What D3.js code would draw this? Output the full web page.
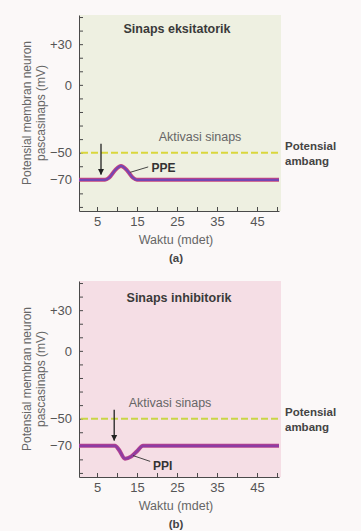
<!DOCTYPE html>
<html>
<head>
<meta charset="utf-8">
<script src="https://cdn.jsdelivr.net/npm/d3@7"></script>
<style>
  html, body { margin: 0; padding: 0; background: #fbf8f8; }
  svg { display: block; font-family: 'Liberation Sans', Arial, sans-serif; }
</style>
</head>
<body>
<div id="chart"></div>
<script>
// data
const timeA = [0.5, 7, 8, 9.5, 11, 12.5, 14, 15, 50.5]
const ppeMv = [-70, -70, -68.5, -63, -59.8, -63, -68.5, -70, -70]
const timeB = [0.5, 9.5, 10.5, 12, 13.5, 15, 16.5, 50.5]
const ppiMv = [-70, -70, -73, -79.5, -78, -74, -70, -70]
const yTickValues = [-90, -80, -70, -60, -50, -40, -30, -20, -10, 0, 10, 20, 30, 40, 50]
const yTickLabels = { 30: '+30', 0: '0', '-50': '\u221250', '-70': '\u221270' }
const xTickValues = [5, 10, 15, 20, 25, 30, 35, 40, 45, 50]
const xTickLabels = [5, 15, 25, 35, 45]
const threshold = -50
const arrowTimes = [6, 9.3]

const width = 361
const height = 531
const margin = { left: 79, right: 82 }

const svg = d3.select('#chart')
  .append('svg')
  .attr('width', width)
  .attr('height', height)

svg.append('rect')
  .attr('width', width).attr('height', height)
  .attr('fill', '#fbf8f8')

const x = d3.scaleLinear().domain([0.5, 50.5]).range([margin.left, width - margin.right])
const y = d3.scaleLinear().domain([-93, 51.5]).range([211, 15])

const panels = [
  {
    offset: 0, fill: '#eef0e1', title: 'Sinaps eksitatorik', titleX: 177, titleY: 29,
    time: timeA, mv: ppeMv, arrow: arrowTimes[0], tag: '(a)',
    aktX: 30.75, dash: '#d9d63c',
    name: 'PPE', leader: [[13.3, -64.5], [17.8, -60.5]], labelAt: [18.6, -64.5],
    lineOuter: '#c8447e', lineInner: '#7446b4'
  },
  {
    offset: 266, fill: '#f5dee5', title: 'Sinaps inhibitorik', titleX: 179, titleY: 32,
    time: timeB, mv: ppiMv, arrow: arrowTimes[1], tag: '(b)',
    aktX: 23.25, dash: '#c9d646',
    name: 'PPI', leader: [[14, -77.2], [18.3, -81.5]], labelAt: [19, -88],
    lineOuter: '#b4418e', lineInner: '#8d3da3'
  }
]

const defs = svg.append('defs')
defs.append('marker')
  .attr('id', 'arrowhead')
  .attr('viewBox', '0 0 10 10')
  .attr('refX', 9).attr('refY', 5)
  .attr('markerWidth', 5).attr('markerHeight', 6)
  .attr('orient', 'auto')
  .append('path')
  .attr('d', 'M0,0 L10,5 L0,10 z')
  .attr('fill', '#222')

const line = d3.line()
  .x(d => x(d[0]))
  .y(d => y(d[1]))
  .curve(d3.curveMonotoneX)

panels.forEach(function (p) {
  const g = svg.append('g').attr('transform', 'translate(0,' + p.offset + ')')

  // plot background
  g.append('rect')
    .attr('x', x.range()[0])
    .attr('y', y.range()[1])
    .attr('width', x.range()[1] - x.range()[0] + 2)
    .attr('height', y.range()[0] - y.range()[1])
    .attr('fill', p.fill)

  // y axis
  const yAxis = d3.axisLeft(y)
    .tickValues(yTickValues)
    .tickSizeInner(-4)
    .tickSizeOuter(0)
    .tickPadding(7)
    .tickFormat(d => yTickLabels[d] || '')

  g.append('g')
    .attr('class', 'axis y-axis')
    .attr('transform', 'translate(' + margin.left + ',0)')
    .call(yAxis)

  // x axis
  const xAxis = d3.axisBottom(x)
    .tickValues(xTickValues)
    .tickSizeInner(-4)
    .tickSizeOuter(0)
    .tickPadding(6)
    .tickFormat(d => xTickLabels.includes(d) ? d : '')

  g.append('g')
    .attr('class', 'axis x-axis')
    .attr('transform', 'translate(0,' + y.range()[0] + ')')
    .call(xAxis)

  g.selectAll('.axis path, .axis line')
    .attr('stroke', '#4a4a4a')
  g.selectAll('.axis text')
    .attr('fill', '#555')
    .attr('font-size', 13)
    .attr('font-family', "'Liberation Sans', Arial, sans-serif")

  // threshold line
  g.append('line')
    .attr('x1', x.range()[0] + 2)
    .attr('x2', x.range()[1])
    .attr('y1', y(threshold))
    .attr('y2', y(threshold))
    .attr('stroke', p.dash)
    .attr('stroke-width', 2)
    .attr('stroke-dasharray', '7,3')

  // membrane potential trace
  const pts = p.time.map((t, i) => [t, p.mv[i]])
  g.append('path')
    .datum(pts)
    .attr('d', line)
    .attr('fill', 'none')
    .attr('stroke', p.lineOuter)
    .attr('stroke-width', 4)
    .attr('stroke-linejoin', 'round')
  g.append('path')
    .datum(pts)
    .attr('d', line)
    .attr('fill', 'none')
    .attr('stroke', p.lineInner)
    .attr('stroke-width', 2.2)
    .attr('stroke-linejoin', 'round')

  // activation arrow
  g.append('line')
    .attr('x1', x(p.arrow)).attr('x2', x(p.arrow))
    .attr('y1', y(-43.5)).attr('y2', y(-66))
    .attr('stroke', '#222')
    .attr('stroke-width', 1.3)
    .attr('marker-end', 'url(#arrowhead)')

  g.append('text')
    .attr('x', x(p.aktX))
    .attr('y', y(-38.5))
    .attr('dy', '0.35em')
    .attr('text-anchor', 'middle')
    .attr('font-size', 12.5)
    .attr('fill', '#666')
    .text('Aktivasi sinaps')

  // PPE / PPI label
  g.append('line')
    .attr('x1', x(p.leader[0][0])).attr('y1', y(p.leader[0][1]))
    .attr('x2', x(p.leader[1][0])).attr('y2', y(p.leader[1][1]))
    .attr('stroke', '#333')
    .attr('stroke-width', 0.9)
  g.append('text')
    .attr('x', x(p.labelAt[0]))
    .attr('y', y(p.labelAt[1]))
    .attr('font-size', 12)
    .attr('font-weight', 'bold')
    .attr('fill', '#333')
    .text(p.name)

  // threshold label
  const amb = g.append('text')
    .attr('x', 285)
    .attr('y', y(threshold))
    .attr('font-size', 11.5)
    .attr('font-weight', 'bold')
    .attr('fill', '#444')
  amb.append('tspan').attr('x', 285).attr('dy', '-0.25em').text('Potensial')
  amb.append('tspan').attr('x', 285).attr('dy', '1.3em').text('ambang')

  // title
  g.append('text')
    .attr('x', p.titleX)
    .attr('y', p.titleY)
    .attr('dy', '0.35em')
    .attr('text-anchor', 'middle')
    .attr('font-size', 12.5)
    .attr('font-weight', 'bold')
    .attr('fill', '#3a3a3a')
    .text(p.title)

  // y axis title
  const yt = g.append('text')
    .attr('transform', 'translate(0,' + ((y.range()[0] + y.range()[1]) / 2) + ') rotate(-90)')
    .attr('text-anchor', 'middle')
    .attr('font-size', 12)
    .attr('fill', '#666')
  yt.append('tspan').attr('x', 0).attr('y', 31).text('Potensial membran neuron')
  yt.append('tspan').attr('x', 0).attr('y', 45).text('pascasinaps (mV)')

  // x axis title and panel tag
  g.append('text')
    .attr('x', 176)
    .attr('y', 240)
    .attr('dy', '0.35em')
    .attr('text-anchor', 'middle')
    .attr('font-size', 12.5)
    .attr('fill', '#666')
    .text('Waktu (mdet)')
  g.append('text')
    .attr('x', 176)
    .attr('y', 258)
    .attr('dy', '0.35em')
    .attr('text-anchor', 'middle')
    .attr('font-size', 11.5)
    .attr('font-weight', 'bold')
    .attr('fill', '#444')
    .text(p.tag)
})
</script>
</body>
</html>
